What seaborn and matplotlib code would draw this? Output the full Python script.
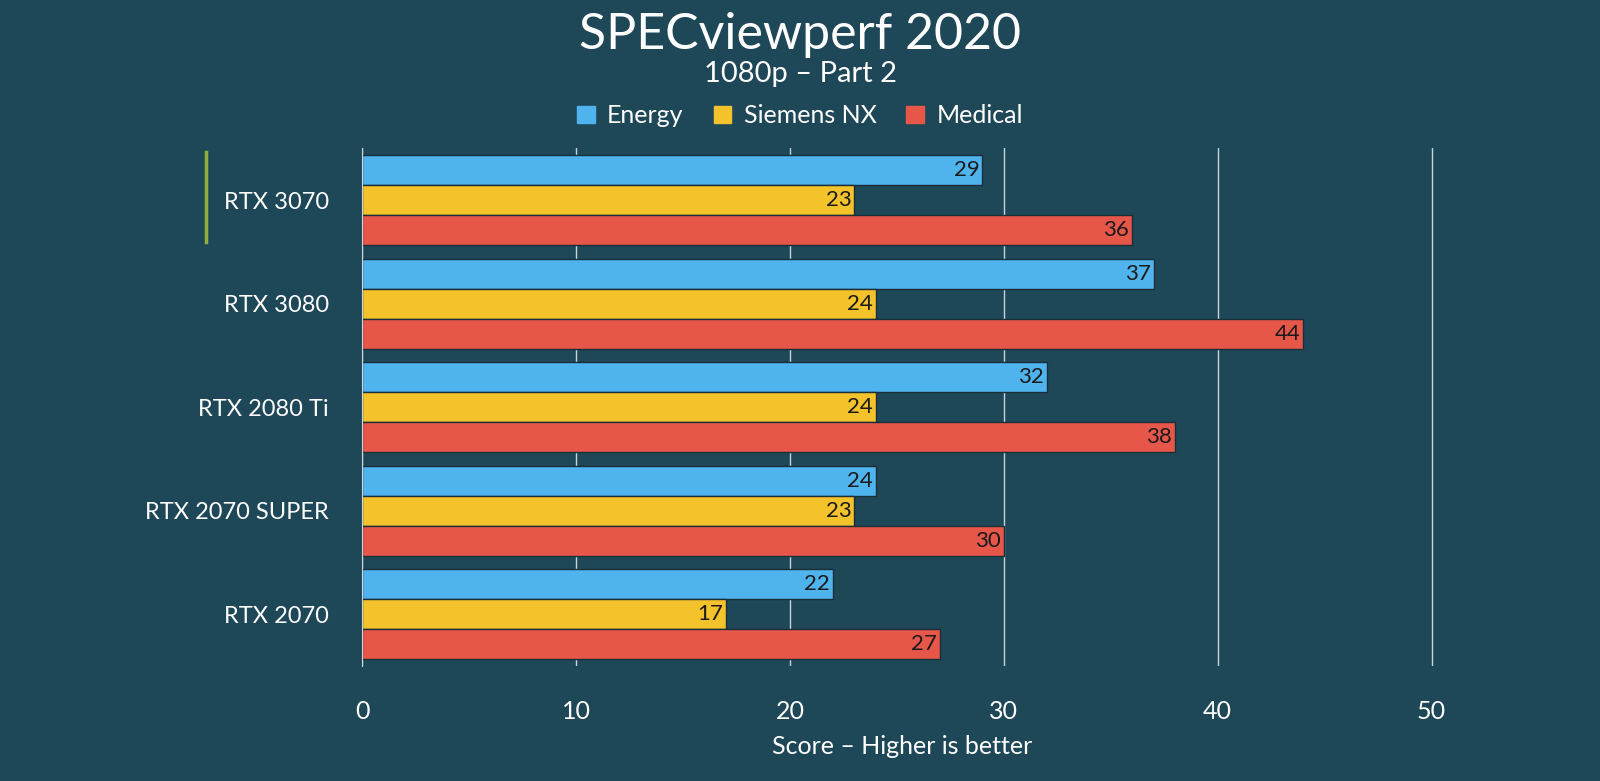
import matplotlib
matplotlib.use("Agg")
import matplotlib.pyplot as plt
import seaborn as sns
import pandas as pd
from matplotlib.lines import Line2D

plt.rcParams["font.family"] = "Lato"

gpus = ["RTX 3070", "RTX 3080", "RTX 2080 Ti", "RTX 2070 SUPER", "RTX 2070"]
series = ["Energy", "Siemens NX", "Medical"]
energy = [29, 37, 32, 24, 22]
siemens = [23, 24, 24, 23, 17]
medical = [36, 44, 38, 30, 27]
colors = ["#4fb4ee", "#f4c22b", "#e6574a"]
xticks = [0, 10, 20, 30, 40, 50]

df = pd.DataFrame({
    "gpu": gpus * 3,
    "series": [s for s in series for _ in gpus],
    "score": energy + siemens + medical,
})

bg = "#1e4758"
fig = plt.figure(figsize=(16, 7.81), dpi=100, facecolor=bg)
ax = fig.add_axes([0.2264, 0.147, 0.675, 0.663], facecolor=bg)
ax.set_axisbelow(True)
sns.barplot(data=df, y="gpu", x="score", hue="series", order=gpus, hue_order=series,
            palette=colors, saturation=1, orient="h", width=0.87, edgecolor="#1a2e38",
            linewidth=1, ax=ax)
ax.set_xlim(0, 50.5)
ax.set_ylim(4.5, -0.5)
ax.set_xticks(xticks)
ax.grid(axis="x", color="#c8d4d8", linewidth=1)
for s in ax.spines.values():
    s.set_visible(False)
ax.spines["left"].set_visible(True)
ax.spines["left"].set_color("#d0d8dc")
ax.tick_params(colors="white", labelsize=17, length=0, pad=24)
ax.tick_params(axis="x", pad=24, labelsize=18)
ax.set_ylabel("")
ax.set_xlabel("Score \u2013 Higher is better", color="white", fontsize=18, labelpad=9)
for c in ax.containers:
    texts = ax.bar_label(c, padding=-2, color="#1a1a1a", fontsize=16)
    for t in texts:
        t.set_ha("right")
ax.legend_.remove()
handles = [plt.Rectangle((0, 0), 1, 1, color=c) for c in colors]
fig.legend(handles, series, loc="center", bbox_to_anchor=(0.5, 0.852), ncol=3, frameon=False,
           fontsize=18, labelcolor="white", handlelength=0.7, handleheight=0.7,
           columnspacing=1.2, handletextpad=0.5)
fig.text(0.5, 0.955, "SPECviewperf 2020", ha="center", va="center", color="white", fontsize=36)
fig.text(0.5, 0.905, "1080p \u2013 Part 2", ha="center", va="center", color="white", fontsize=21)
fig.add_artist(Line2D([0.129, 0.129], [0.69, 0.805], color="#8fae3a", linewidth=2.5))
fig.savefig("out.png", dpi=100, facecolor=bg)
